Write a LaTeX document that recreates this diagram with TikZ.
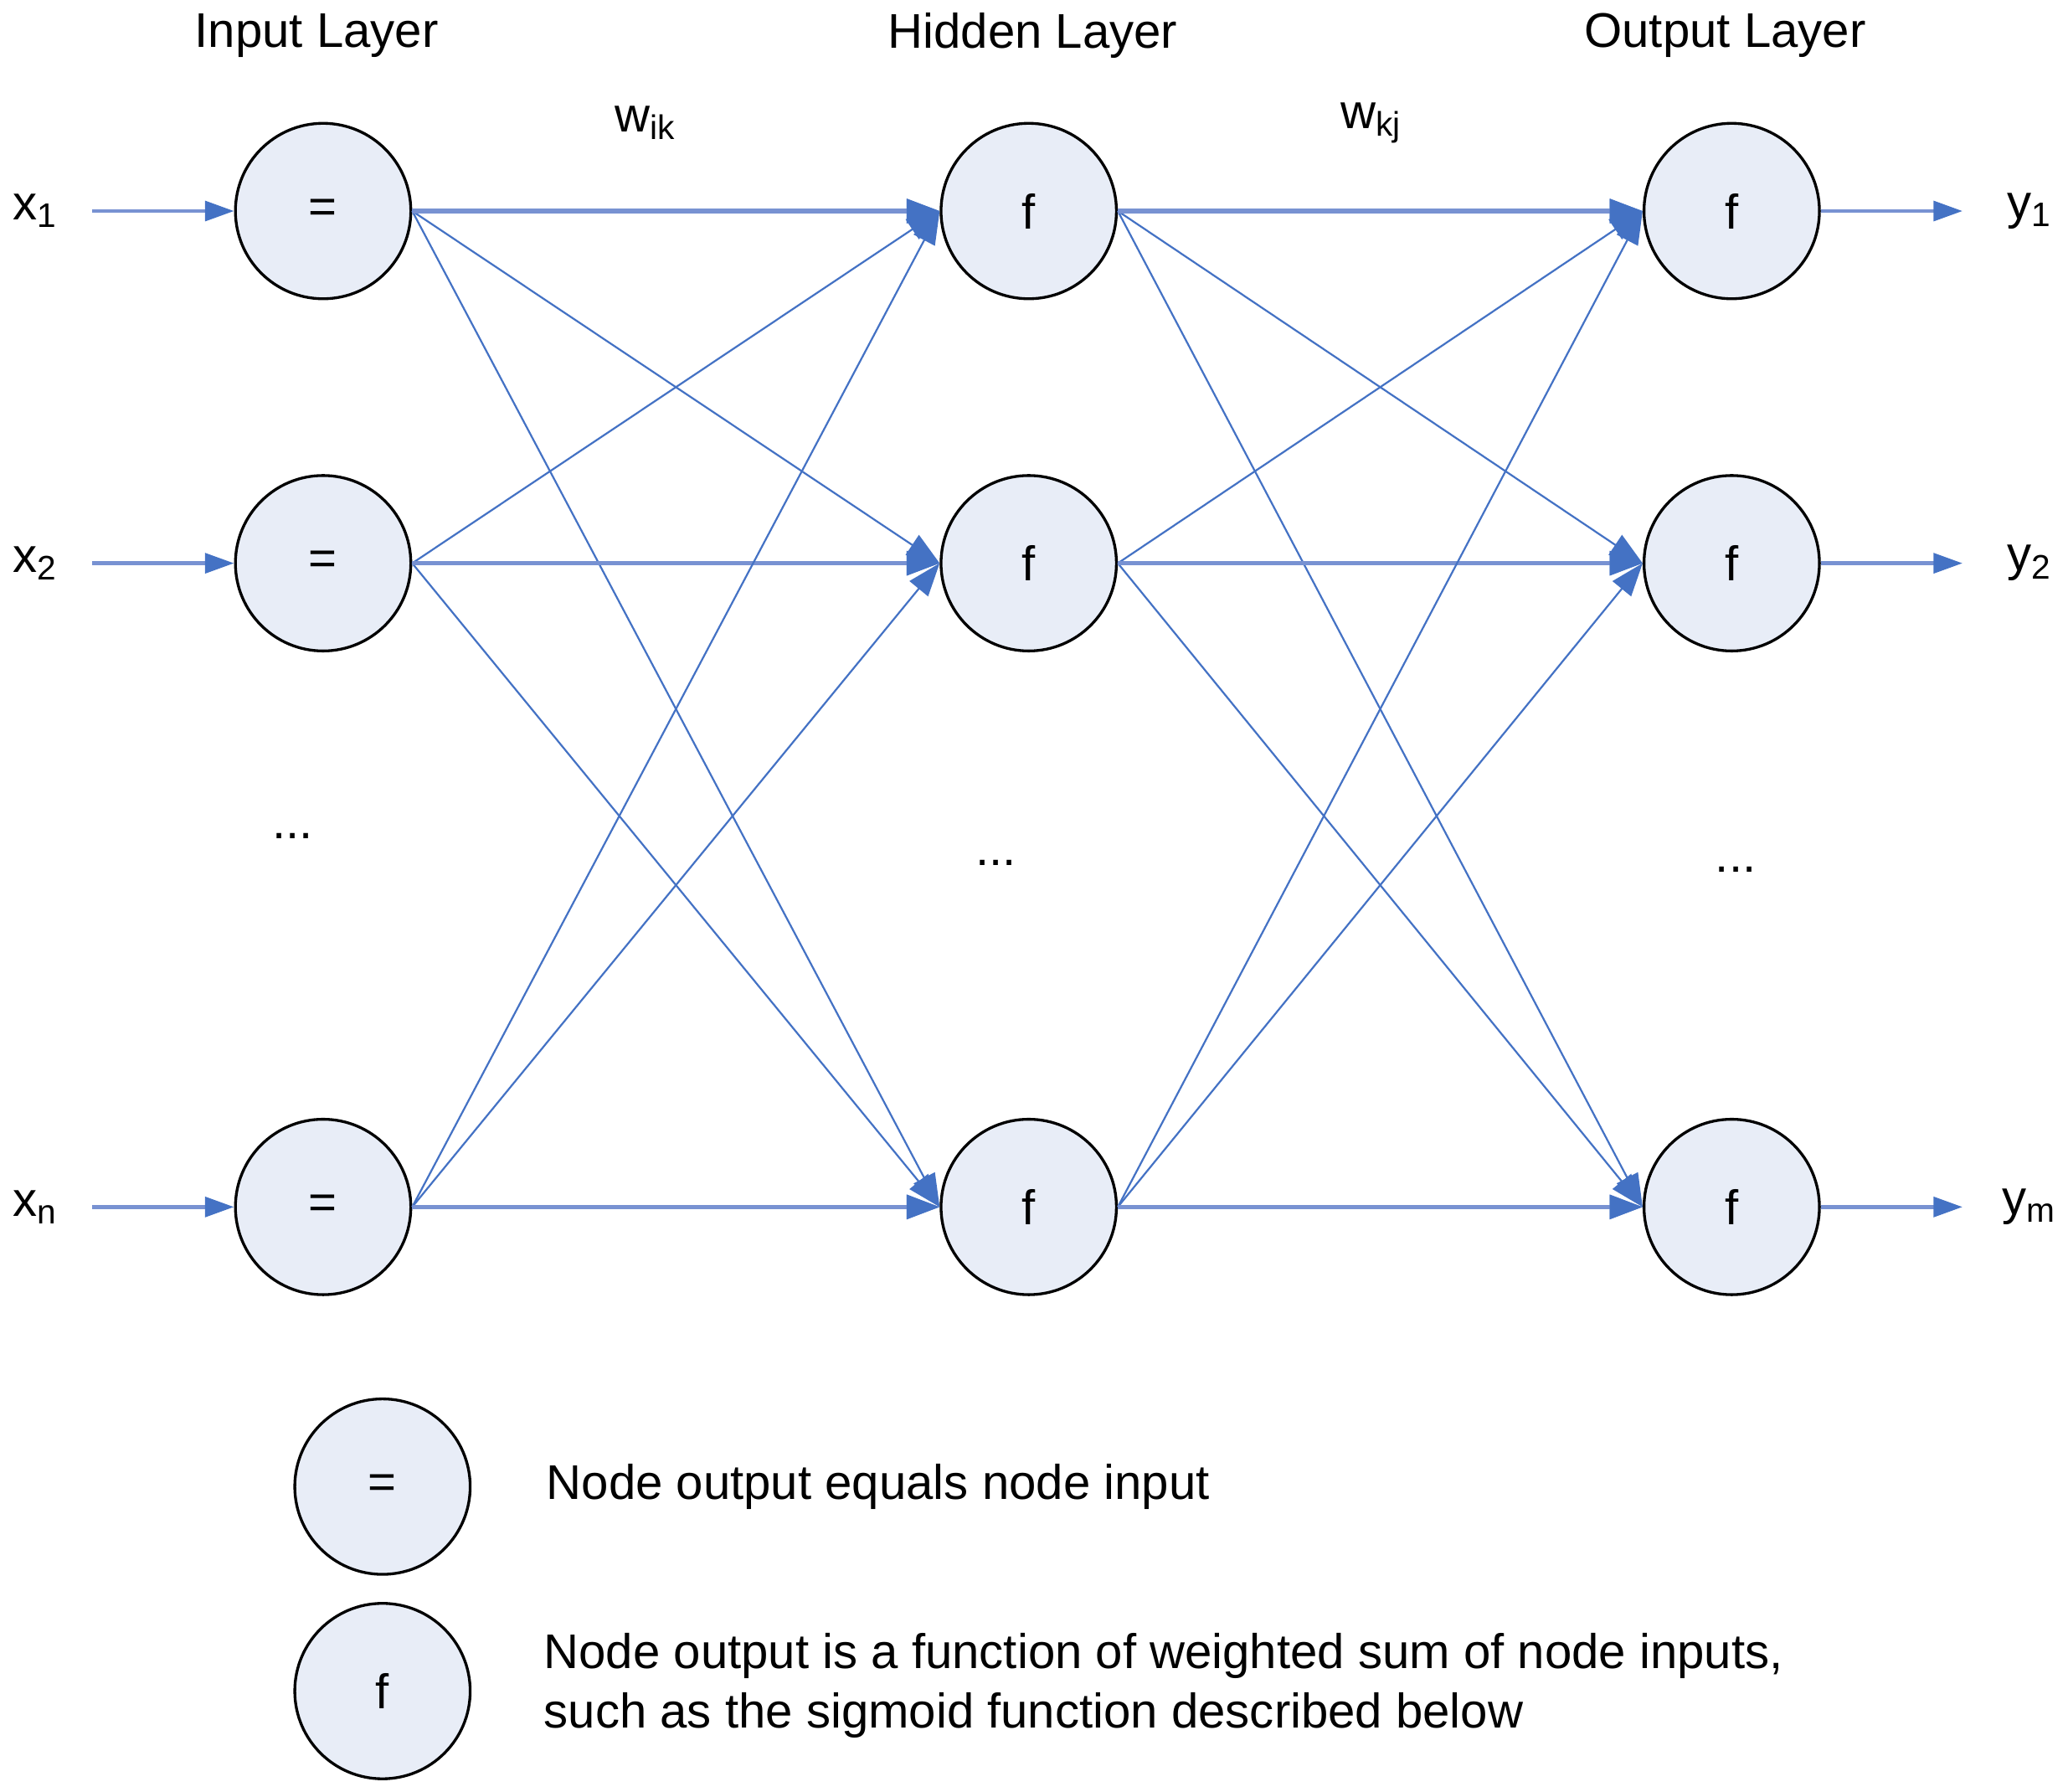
\documentclass[tikz,border=0pt]{standalone}
\usepackage{fontspec}
\setmainfont{Liberation Sans}
\usetikzlibrary{arrows.meta}
\definecolor{linkblue}{RGB}{68,114,196}
\definecolor{pathblue}{RGB}{120,146,210}
\definecolor{cellfill}{RGB}{232,237,247}
\begin{document}
\begin{tikzpicture}[
    every node/.style={font=\fontsize{10.5}{12.8}\selectfont},
    neuron/.style={circle, draw=black, line width=0.6pt, fill=cellfill, minimum size=1.33cm, inner sep=0pt},
    link/.style={draw=linkblue, line width=0.4pt, -{Triangle[length=2.5mm, width=1.8mm]}},
    mainlink/.style={draw=pathblue, line width=1pt, -{Triangle[length=2.5mm, width=1.8mm, color=linkblue]}},
    feed/.style={draw=pathblue, line width=0.8pt, -{Triangle[length=2.2mm, width=1.5mm, color=linkblue]}}
]
    \useasboundingbox (0,0) rectangle (15.68,-13.58);

    % layer titles and weights
    \node (tin) at (2.40,-0.27) {Input Layer};
    \node (thid) at (7.83,-0.27) {Hidden Layer};
    \node (tout) at (13.08,-0.27) {Output Layer};
    \node (wik) at (4.90,-0.93) {w\textsubscript{ik}};
    \node (wkj) at (10.40,-0.93) {w\textsubscript{kj}};

    % neurons
    \foreach \n/\y in {1/-1.60, 2/-4.27, 3/-9.15} {
        \node[neuron] (i\n) at (2.45,\y) {=};
        \node[neuron] (h\n) at (7.80,\y) {f};
        \node[neuron] (o\n) at (13.13,\y) {f};
    }
    \node (din) at (2.22,-6.34) {...};
    \node (dhid) at (7.55,-6.54) {...};
    \node (dout) at (13.16,-6.59) {...};

    % inputs and outputs
    \foreach \n/\y/\xl/\yl in {1/-1.60/1/1, 2/-4.27/2/2, 3/-9.15/n/m} {
        \node (x\n) at (0.27,\y) {x\textsubscript{\xl}};
        \node (y\n) at (15.39,\y) {y\textsubscript{\yl}};
        \coordinate (xin\n) at (0.70,\y);
        \coordinate (yout\n) at (14.88,\y);
        \draw[feed] (xin\n) -- (i\n.west);
        \draw[feed] (o\n.east) -- (yout\n);
    }

    % weights
    \foreach \a in {1,2,3} {
        \foreach \b in {1,2,3} {
            \draw[link] (i\a.east) -- (h\b.west);
            \draw[link] (h\a.east) -- (o\b.west);
        }
        \draw[mainlink] (i\a.east) -- (h\a.west);
        \draw[mainlink] (h\a.east) -- (o\a.west);
    }

    % legend
    \node[neuron] (leq) at (2.90,-11.27) {=};
    \node[neuron] (lf) at (2.90,-12.82) {f};
    \node[anchor=west] (teq) at (4.02,-11.27) {Node output equals node input};
    \node[anchor=west, align=left] (tf) at (4.00,-12.78) {Node output is a function of weighted sum of node inputs,\\such as the sigmoid function described below};
\end{tikzpicture}
\end{document}
